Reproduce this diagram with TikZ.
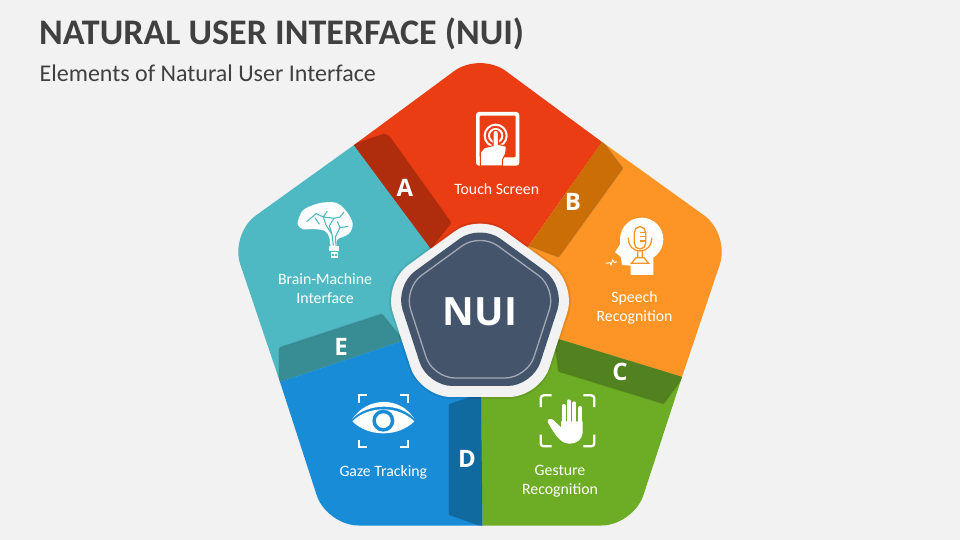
\documentclass[tikz,border=0pt]{standalone}
\usepackage{fontspec}
\setmainfont{Carlito}
\newfontfamily\opensans{Open Sans}
\definecolor{bgc}{HTML}{F2F2F2}
\definecolor{inkc}{HTML}{404040}
\definecolor{redc}{HTML}{EB3D13}
\definecolor{orac}{HTML}{FC9525}
\definecolor{grnc}{HTML}{6DAD26}
\definecolor{bluc}{HTML}{198CD8}
\definecolor{teac}{HTML}{4FB9C3}
\definecolor{dredc}{HTML}{AF2C0D}
\definecolor{doraC}{HTML}{CC6E06}
\definecolor{dgrnc}{HTML}{528120}
\definecolor{dbluc}{HTML}{10699F}
\definecolor{dteac}{HTML}{388D94}
\definecolor{navyc}{HTML}{44546A}
\definecolor{ringc}{HTML}{A2AAB5}
\newcommand{\pentaP}[2]{({480},{#2+#1*0.809}) -- ({480-#1*0.588},{#2+#1*0.809}) -- ({480-#1*0.951},{#2-#1*0.309}) -- (480,{#2-#1}) -- ({480+#1*0.951},{#2-#1*0.309}) -- ({480+#1*0.588},{#2+#1*0.809}) -- cycle}
\newcommand{\tabS}[2]{%
  \foreach \w/\o in {3.5/.07,2.4/.10,1.2/.14}{\draw[black,opacity=\o,line width=\w pt,line join=round] #2;}
  \fill[#1] #2;}
\tikzset{
  lbl/.style={text=white,font=\fontsize{15.8}{19}\selectfont,align=center,inner sep=0pt},
  letterl/.style={text=white,font=\opensans\fontsize{24}{24}\selectfont\bfseries,inner sep=0pt},
  iconln/.style={draw=white,line width=2.3pt,fill=none},
}
\begin{document}
\begin{tikzpicture}[x=1pt,y=-1pt]
\useasboundingbox (0,0) rectangle (960,540);
\fill[bgc] (0,0) rectangle (960,540);
\node[anchor=base west,inner sep=0pt,text=inkc,font=\fontsize{36}{36}\selectfont\bfseries] (title) at (39,45) {NATURAL USER INTERFACE (NUI)};
\node[anchor=base west,inner sep=0pt,text=inkc,font=\fontsize{24}{24}\selectfont] (subtitle) at (39.5,81.5) {Elements of Natural User Interface};
\coordinate (c) at (480,315);
\coordinate (vt) at (480,52);
\coordinate (vr) at (730,234);
\coordinate (vbr) at (633.5,525.5);
\coordinate (vbl) at (326.5,525.5);
\coordinate (vl) at (230,234);
\coordinate (ma) at (354,145);
\coordinate (mb) at (602,142);
\coordinate (mc) at (682,377);
\coordinate (md) at (482.5,525.5);
\coordinate (me) at (280,382);
% teal sector and tab E
\fill[teac] (me) [rounded corners=32pt] -- (vl) [sharp corners] -- (ma) -- (c) -- cycle;
\begin{scope}
\clip (me) [rounded corners=32pt] -- (vl) [sharp corners] -- (ma) -- (c) -- cycle;
\tabS{dteac}{[rounded corners=1pt] (280,382) -- (280,348.3) -- (381.7,315) -- (410,350) -- cycle}
\end{scope}
% red sector and tab A
\fill[redc] (ma) [rounded corners=32pt] -- (vt) [sharp corners] -- (mb) -- (c) -- cycle;
\begin{scope}
\clip (ma) [rounded corners=32pt] -- (vt) [sharp corners] -- (mb) -- (c) -- cycle;
\tabS{dredc}{(354,145) -- (384,135) [rounded corners=3pt] -- (388,136) [sharp corners] -- (450,222.7) -- (429.3,249.3) -- cycle}
\end{scope}
% orange sector and tab B
\fill[orac] (mb) [rounded corners=32pt] -- (vr) [sharp corners] -- (mc) -- (c) -- cycle;
\begin{scope}
\clip (mb) [rounded corners=32pt] -- (vr) [sharp corners] -- (mc) -- (c) -- cycle;
\tabS{doraC}{(602,142) -- (621.7,168.3) -- (558.3,256) -- (526.7,244) -- cycle}
\end{scope}
% green sector and tab C
\fill[grnc] (mc) [rounded corners=32pt] -- (vbr) [sharp corners] -- (md) -- (c) -- cycle;
\begin{scope}
\clip (mc) [rounded corners=32pt] -- (vbr) [sharp corners] -- (md) -- (c) -- cycle;
\tabS{dgrnc}{(682,377) -- (663.3,402.7) -- (559.3,370.7) -- (555,336.5) -- cycle}
\end{scope}
% blue sector and tab D
\fill[bluc] (md) [rounded corners=32pt] -- (vbl) [sharp corners] -- (me) -- (c) -- cycle;
\begin{scope}
\clip (md) [rounded corners=32pt] -- (vbl) [sharp corners] -- (me) -- (c) -- cycle;
\tabS{dbluc}{(482.5,525.5) -- (450,514) -- (450,405) -- (482.5,394) -- cycle}
\end{scope}
% centre
\draw[black,opacity=.08,line width=4pt,rounded corners=31pt] \pentaP{101.7}{314.7};
\fill[bgc,rounded corners=31pt] \pentaP{101.7}{314.7};
\fill[navyc,rounded corners=25pt] \pentaP{89.6}{313.5};
\draw[ringc,line width=1.3pt,rounded corners=22pt] \pentaP{80.2}{313.1};
\node[text=white,inner sep=0pt,font=\opensans\fontsize{39}{39}\selectfont\bfseries] (nui) at (480,312) {NUI};
% letters
\node[letterl] (la) at (405,188) {A};
\node[letterl] (lb) at (573,202) {B};
\node[letterl] (lc) at (620,372) {C};
\node[letterl] (ld) at (467,459) {D};
\node[letterl] (le) at (341,347) {E};
% labels
\node[lbl] (t1) at (496.7,189.5) {Touch Screen};
\node[lbl] (t2) at (634.5,307.5) {Speech\\Recognition};
\node[lbl] (t3) at (560,481.5) {Gesture\\Recognition};
\node[lbl] (t4) at (383.3,472) {Gaze Tracking};
\node[lbl] (t5) at (325,289) {Brain-Machine\\Interface};
% touch icon
\begin{scope}[shift={(465,105)},scale=0.3333]
\fill[white,rounded corners=3pt] (33,21) rectangle (163,182);
\fill[redc,rounded corners=1pt] (44,32) rectangle (152,157);
\draw[white,line width=2pt] (92,92) circle[radius=33];
\draw[white,line width=2pt] (92,92) circle[radius=20];
\fill[white,draw=redc,line width=1pt] (84,84) arc[start angle=180,end angle=360,radius=8] -- (100,118) -- (124,124) -- (122,145) -- (112,165) -- (112,183) -- (46,183) -- (46,142) -- (58,128) -- (84,122) -- cycle;
\end{scope}
% brain icon
\begin{scope}[shift={(290,195)},scale=0.3333]
\fill[white] plot[smooth cycle,tension=.6] coordinates {(24,78) (38,47) (70,30) (105,22) (142,25) (170,50) (188,85) (178,115) (155,127) (141,135) (139,155) (123,155) (118,128) (105,108) (70,102) (40,103) (25,92)};
\fill[white] (117,152) rectangle (148,167);
\fill[white] (122,172) rectangle (145,188);
\fill[teac] (126,177) rectangle (132,182);
\fill[teac] (136,177) rectangle (142,182);
\draw[teac,line width=1.1pt,line join=round]
 (130,152) -- (126,118) -- (108,90) -- (100,66) -- (78,56) -- (50,80)
 (112,48) -- (100,66)
 (75,68) -- (88,88)
 (126,118) -- (118,92) -- (132,70) -- (150,66) -- (162,52)
 (138,152) -- (136,126) -- (150,98) -- (175,94)
 (150,98) -- (142,80) (100,66) -- (132,70);
\end{scope}
% speech icon
\begin{scope}[shift={(600,215)},scale=0.3333]
\fill[white] (125,73) circle[radius=65];
\fill[white] (65,60) -- (60,88) -- (45,112) -- (62,125) -- (66,150) -- (92,152) -- (92,180) -- (160,180) -- (160,115) -- (120,60) -- cycle;
\draw[orac,line width=1.3pt] (103,52) arc[start angle=180,end angle=360,radius=17] -- (137,85) arc[start angle=0,end angle=180,radius=17] -- cycle;
\draw[orac,line width=1.3pt] (120,52) -- (137,52) (120,65) -- (137,65) (120,78) -- (137,78);
\draw[orac,line width=1.3pt] (85,68) -- (85,73) arc[start angle=180,end angle=0,radius=35] -- (155,68);
\draw[orac,line width=1.3pt] (113,108) -- (113,127) (127,108) -- (127,127) (108,128) -- (132,128) -- (146,145) -- (94,145) -- cycle;
\draw[white,line width=.9pt] (18,145) -- (30,143) -- (33,150) -- (38,135) -- (44,143) -- (50,140);
\end{scope}
% eye icon
\begin{scope}[shift={(345,388)},scale=0.3333]
\draw[iconln] (42,45) -- (42,20) -- (65,20) (165,20) -- (190,20) -- (190,45) (42,155) -- (42,178) -- (65,178) (190,155) -- (190,178) -- (165,178);
\fill[white] (22,100) .. controls (70,52) and (160,52) .. (208,100) .. controls (160,148) and (70,148) .. (22,100) -- cycle;
\fill[white] (22,92) .. controls (70,25) and (165,25) .. (208,92) .. controls (165,44) and (70,44) .. (22,92) -- cycle;
\fill[bluc] (115,98) circle[radius=33];
\fill[white] (115,98) circle[radius=22];
\end{scope}
% hand icon
\begin{scope}[shift={(535,388)},scale=0.3333]
\draw[iconln,rounded corners=3pt] (17,57) -- (17,22) -- (50,22) (145,22) -- (178,22) -- (178,57) (17,140) -- (17,175) -- (50,175) (178,140) -- (178,175) -- (145,175);
\draw[white,line width=4pt,line cap=round] (86,110) -- (86,54) (101,110) -- (101,40) (118,110) -- (118,46) (136,110) -- (136,60);
\fill[white] (78,100) -- (143,100) -- (143,135) .. controls (140,155) and (125,167) .. (105,167) .. controls (80,167) and (65,150) .. (38,102) .. controls (36,92) and (48,90) .. (55,96) -- (78,118) -- cycle;
\end{scope}
\end{tikzpicture}
\end{document}
